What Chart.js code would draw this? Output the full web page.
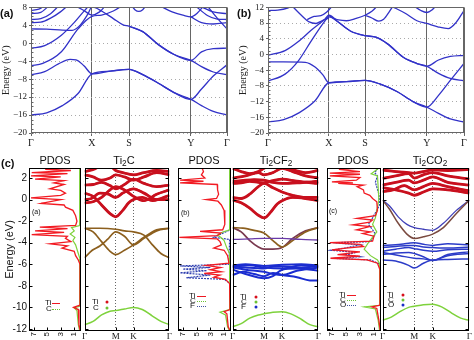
<!DOCTYPE html>
<html><head><meta charset="utf-8">
<script src="https://cdn.jsdelivr.net/npm/chart.js@4.4.0/dist/chart.umd.min.js"></script>
<style>
html,body{margin:0;padding:0;background:#fff;}
body{width:474px;height:340px;position:relative;overflow:hidden;font-family:'Liberation Sans',Arial,sans-serif;}
canvas{position:absolute;}
.t{position:absolute;white-space:nowrap;color:#111;line-height:1;transform:translate(-50%,-50%);}
.l{position:absolute;white-space:nowrap;color:#111;line-height:1;transform:translate(0,-50%);}
.ln{position:absolute;height:0;}
.dot{position:absolute;width:3px;height:3px;border-radius:50%;transform:translate(-50%,-50%);}
sub{font-size:75%;vertical-align:-2px;line-height:0;}
</style></head><body>
<canvas id="ca" style="left:0;top:0" width="237" height="150"></canvas>
<canvas id="cb" style="left:237px;top:0" width="237" height="150"></canvas>
<canvas id="p1" style="left:0;top:150px" width="82" height="190"></canvas>
<canvas id="b1" style="left:82px;top:150px" width="90" height="190"></canvas>
<canvas id="p2" style="left:170px;top:150px" width="62" height="190"></canvas>
<canvas id="b2" style="left:230px;top:150px" width="91" height="190"></canvas>
<canvas id="p3" style="left:319px;top:150px" width="63" height="190"></canvas>
<canvas id="b3" style="left:380px;top:150px" width="92" height="190"></canvas>

<div class="l" style="left:0px;top:13px;font-weight:bold;font-size:11px">(a)</div>
<div class="l" style="left:237px;top:13px;font-weight:bold;font-size:11px">(b)</div>
<div class="l" style="left:1px;top:163px;font-weight:bold;font-size:11px">(c)</div>
<div class="t" style="left:55px;top:160px;font-size:11px">PDOS</div>
<div class="t" style="left:124px;top:160px;font-size:11px">Ti<sub>2</sub>C</div>
<div class="t" style="left:204px;top:160px;font-size:11px">PDOS</div>
<div class="t" style="left:276px;top:160px;font-size:11px">Ti<sub>2</sub>CF<sub>2</sub></div>
<div class="t" style="left:353px;top:160px;font-size:11px">PDOS</div>
<div class="t" style="left:430px;top:160px;font-size:11px">Ti<sub>2</sub>CO<sub>2</sub></div>
<div class="l" style="left:32px;top:211px;font-size:7px">(a)</div>
<div class="l" style="left:181px;top:212px;font-size:7px">(b)</div>
<div class="l" style="left:329px;top:210px;font-size:7px">(c)</div>
<!-- PDOS legends -->
<div class="l" style="left:45px;top:303px;font-size:8px">Ti</div>
<div class="ln" style="left:52px;top:303px;width:8px;border-top:1.5px solid #ee1822"></div>
<div class="l" style="left:46px;top:309px;font-size:8px">C</div>
<div class="ln" style="left:52px;top:309px;width:8px;border-top:1.5px dotted #6cc232"></div>
<div class="l" style="left:189px;top:296px;font-size:8px">Ti</div>
<div class="ln" style="left:197px;top:296px;width:9px;border-top:1.5px solid #ee1822"></div>
<div class="l" style="left:190px;top:301px;font-size:8px">C</div>
<div class="ln" style="left:197px;top:301px;width:9px;border-top:1.5px dotted #6cc232"></div>
<div class="l" style="left:190px;top:306px;font-size:8px">F</div>
<div class="ln" style="left:197px;top:306px;width:9px;border-top:1.5px dotted #4050a0"></div>
<div class="l" style="left:339px;top:295px;font-size:8px">Ti</div>
<div class="ln" style="left:347px;top:295px;width:9px;border-top:1.5px solid #ee1822"></div>
<div class="l" style="left:340px;top:300px;font-size:8px">C</div>
<div class="ln" style="left:347px;top:300px;width:9px;border-top:1.5px dotted #6cc232"></div>
<div class="l" style="left:340px;top:305px;font-size:8px">O</div>
<div class="ln" style="left:347px;top:305px;width:9px;border-top:1.5px dotted #4050a0"></div>
<!-- band legends -->
<div class="l" style="left:92px;top:302px;font-size:8px">Ti</div>
<div class="dot" style="left:107px;top:302px;background:#d8101c"></div>
<div class="l" style="left:93px;top:308px;font-size:8px">C</div>
<div class="dot" style="left:107px;top:308px;background:#6cc232"></div>
<div class="l" style="left:240px;top:297px;font-size:8px">Ti</div>
<div class="dot" style="left:256px;top:297px;background:#d8101c"></div>
<div class="l" style="left:241px;top:302px;font-size:8px">C</div>
<div class="dot" style="left:256px;top:302px;background:#6cc232"></div>
<div class="l" style="left:241px;top:307px;font-size:8px">F</div>
<div class="dot" style="left:256px;top:307px;background:#1a2cc8"></div>
<div class="l" style="left:387px;top:295px;font-size:8px">Ti</div>
<div class="dot" style="left:403px;top:295px;background:#d8101c"></div>
<div class="l" style="left:388px;top:300px;font-size:8px">C</div>
<div class="dot" style="left:403px;top:300px;background:#6cc232"></div>
<div class="l" style="left:388px;top:305px;font-size:8px">O</div>
<div class="dot" style="left:403px;top:305px;background:#1a2cc8"></div>

<script>
// ---------- axes / labels ----------
const K_A = [0, 0.311, 0.5, 0.816, 1];
const LBL_A = ['Γ','X','S','Y','Γ'];
const TICKS_A = [8,4,0,-4,-8,-12,-16,-20];
const K_B = [0, 0.311, 0.495, 0.81, 1];
const LBL_B = ['Γ','X','S','Y','Γ'];
const TICKS_B = [12,8,4,0,-4,-8,-12,-16,-20];
const K_C = [0, 0.366, 0.577, 1];
const LBL_C = ['Γ','M','K','Γ'];
const TICKS_C = [2,0,-2,-4,-6,-8,-10,-12];
const DOS_TICKS = [1,3,5,7];

// ---------- panel (a) bands [k, E] ----------
const a1 = [[0,-16],[0.08,-15.5],[0.16,-13.9],[0.24,-11.2],[0.311,-6.8],[0.405,-6.2],[0.5,-5.8],[0.57,-7.0],[0.65,-8.9],[0.73,-11.0],[0.816,-12.5],[0.87,-13.9],[0.93,-15.2],[1,-16]];
const a2 = [[0,-7],[0.07,-6.3],[0.14,-4.6],[0.2,-3.6],[0.23,-3.7],[0.27,-5],[0.311,-6.8],[0.405,-6.2],[0.5,-5.8],[0.57,-7.0],[0.65,-8.9],[0.73,-11.0],[0.816,-12.5],[0.87,-10.2],[0.93,-7.3],[1,-4.8]];
const a3 = [[0,-5],[0.06,-4.5],[0.155,-1.9],[0.24,3.2],[0.311,6.0],[0.36,6.3],[0.42,7.2],[0.47,8.5]];
const a4 = [[0,-1.1],[0.07,-0.5],[0.155,1.8],[0.22,4.6],[0.265,6.9],[0.3,8.6]];
const a5 = [[0,3.2],[0.08,3.15],[0.16,2.95],[0.21,2.9],[0.25,4.0],[0.29,6.5],[0.311,8.1],[0.36,7.2],[0.42,5.5],[0.47,4.1],[0.5,3.8],[0.57,2.6],[0.65,-0.3],[0.73,-2.5],[0.816,-3.8],[0.87,-1.9],[0.93,-1.2],[1,-1.1]];
const a6 = [[0.5,3.8],[0.57,2.6],[0.65,-0.3],[0.73,-2.5],[0.816,-3.8],[0.87,-5.2],[0.93,-6.4],[1,-7]];
const a7 = [[0,4.6],[0.05,4.7],[0.1,5.6],[0.15,7],[0.19,8.5]];
const a8 = [[0,5.3],[0.05,5.5],[0.1,6.6],[0.14,8.3]];
const a9 = [[0,6.6],[0.05,6.9],[0.09,8.3]];
const a10 = [[0,7.3],[0.04,7.6],[0.07,8.4]];
const a11 = [[0.22,8.5],[0.27,7.3],[0.311,6.3],[0.35,7.0],[0.38,8.4]];
const a12 = [[0.515,8.3],[0.53,7.5],[0.55,7.1],[0.57,7.5],[0.585,8.3]];
const a13 = [[0.66,8.3],[0.72,7.0],[0.78,6.2],[0.816,5.9],[0.85,6.8],[0.88,8.3]];
const a14 = [[0.816,5.9],[0.87,4.6],[0.93,4.3],[1,4.6]];
const a15 = [[0.84,8.3],[0.9,6.2],[0.95,5.4],[1,5.3]];
const a16 = [[0.86,8.3],[0.93,7],[1,6.6]];
const a17 = [[0.9,8.3],[0.95,5.6],[1,3.2]];
const BANDS_A = [a1,a2,a3,a4,a5,a6,a7,a8,a9,a10,a11,a12,a13,a14,a15,a16,a17];

// ---------- panel (b) bands ----------
const b1 = [[0,-17.2],[0.08,-16.6],[0.16,-14.8],[0.24,-11.8],[0.311,-7.2],[0.4,-6.9],[0.495,-6.6],[0.57,-7.5],[0.66,-9.5],[0.74,-12.0],[0.81,-13.4],[0.87,-15],[0.93,-16.4],[1,-17.2]];
const b2 = [[0,-1.9],[0.08,-1.9],[0.19,-2.0],[0.24,-3.2],[0.28,-5.2],[0.311,-7.2],[0.4,-6.9],[0.495,-6.6],[0.57,-7.5],[0.66,-9.5],[0.74,-12.0],[0.81,-13.4],[0.87,-10.4],[0.93,-6.6],[1,-2.3]];
const b3 = [[0,-6.8],[0.087,-5],[0.155,-1.6],[0.22,3.4],[0.29,8.5],[0.311,9.6],[0.36,8.8],[0.4,8.6],[0.45,9.2],[0.495,10],[0.53,11],[0.56,12.5]];
const b4 = [[0,-0.2],[0.087,1.0],[0.155,3.3],[0.22,6.2],[0.29,9.0],[0.311,10.0],[0.36,8.2],[0.42,6.0],[0.495,4.8],[0.55,4.4],[0.61,2.7],[0.69,-0.7],[0.76,-2.3],[0.81,-3.0],[0.87,-1.4],[0.93,-0.5],[1,-0.2]];
const b5 = [[0.311,10.0],[0.36,8.2],[0.42,6.0],[0.495,4.8],[0.55,4.4],[0.61,2.7],[0.69,-0.7],[0.76,-2.3],[0.81,-3.0],[0.87,-4.8],[0.93,-6.1],[1,-6.7]];
const b6 = [[0.12,12.5],[0.17,10],[0.21,8.3],[0.245,7.9],[0.275,8.6],[0.311,9.3]];
const b7 = [[0.2,8.9],[0.235,9.7],[0.27,9.9],[0.3,10.8],[0.33,12.5]];
const b8 = [[0,11.2],[0.05,11.3],[0.1,11.8],[0.13,12.5]];
const b9 = [[0.495,10.0],[0.53,9.3],[0.565,8.5],[0.59,9.0],[0.62,11.0],[0.64,12.5]];
const b10 = [[0.63,12.3],[0.7,10.5],[0.76,8.6],[0.81,7.9],[0.87,7.0],[0.92,6.6],[0.96,8.2],[1,11.2]];
const b11 = [[0.74,12.5],[0.78,11.2],[0.81,10.7],[0.84,11.5],[0.86,12.5]];
const BANDS_B = [b1,b2,b3,b4,b5,b6,b7,b8,b9,b10,b11];

// ---------- (c) Ti2C bands ----------
const c1_green = [[0,-11.6],[0.1,-11.3],[0.2,-10.7],[0.3,-10.35],[0.366,-10.3],[0.47,-10.15],[0.577,-10.0],[0.68,-10.2],[0.8,-10.8],[0.9,-11.3],[1,-11.6]];
const c1_mix1 = [[0,-2.66],[0.18,-2.66],[0.366,-2.75],[0.47,-2.9],[0.577,-3.0],[0.7,-3.3],[0.8,-4.2],[0.9,-5.0],[1,-5.4]];
const c1_mix2 = [[0,-2.66],[0.1,-3.0],[0.2,-3.9],[0.3,-4.8],[0.366,-5.1],[0.47,-4.7],[0.577,-4.2],[0.7,-3.5],[0.85,-2.8],[1,-2.66]];
const c1_mix3 = [[0,-5.4],[0.09,-4.7],[0.18,-4.3],[0.27,-3.7],[0.366,-3.0],[0.47,-3.4],[0.577,-4.2],[0.7,-3.6],[0.85,-2.9],[1,-2.66]];
const c1_ti1 = [[0,0.6],[0.1,0.3],[0.2,-0.5],[0.3,-1.3],[0.366,-1.6],[0.45,-1.0],[0.52,-0.3],[0.577,0.0],[0.68,0.2],[0.8,-0.1],[0.9,0.1],[1,0.4]];
const c1_ti2 = [[0,0.0],[0.08,0.1],[0.18,0.6],[0.28,0.5],[0.366,0.2],[0.45,0.6],[0.577,1.0],[0.7,0.6],[0.85,0.0],[1,0.0]];
const c1_ti3 = [[0,-0.3],[0.1,-0.2],[0.2,0.2],[0.3,0.9],[0.366,1.2],[0.47,0.9],[0.577,0.3],[0.7,-0.1],[0.85,0.5],[1,0.9]];
const c1_ti4 = [[0,1.35],[0.1,1.4],[0.2,1.6],[0.3,1.3],[0.366,1.0],[0.47,1.4],[0.577,1.9],[0.7,1.5],[0.85,1.2],[1,1.35]];
const c1_ti5 = [[0,2.3],[0.1,2.1],[0.2,1.8],[0.3,2.0],[0.366,2.3],[0.47,2.1],[0.577,1.8],[0.7,2.1],[0.85,2.5],[1,2.3]];
const c1_ti6 = [[0,2.6],[0.12,2.85],[0.2,3.2]];
const c1_ti7 = [[0.3,3.2],[0.366,2.7],[0.45,2.5],[0.577,2.3],[0.7,2.5],[0.85,2.7],[1,2.6]];
const TI_C1 = [c1_ti1,c1_ti2,c1_ti3,c1_ti4,c1_ti5,c1_ti6,c1_ti7];
const MIX_C1 = [c1_mix1,c1_mix2,c1_mix3];

// ---------- (c) Ti2CF2 bands ----------
const c2_green = [[0,-11.8],[0.1,-11.5],[0.2,-11.0],[0.3,-10.7],[0.366,-10.6],[0.47,-10.45],[0.577,-10.4],[0.68,-10.6],[0.8,-11.1],[0.9,-11.6],[1,-11.8]];
const c2_f1 = [[0,-6.1],[0.15,-6.0],[0.366,-6.15],[0.577,-6.05],[0.8,-6.0],[1,-6.1]];
const c2_f2 = [[0,-6.2],[0.15,-6.3],[0.366,-6.4],[0.47,-6.2],[0.577,-6.2],[0.8,-6.3],[1,-6.2]];
const c2_f3 = [[0,-6.3],[0.15,-6.5],[0.366,-6.7],[0.47,-6.9],[0.577,-7.0],[0.75,-6.6],[1,-6.3]];
const c2_f4 = [[0,-6.5],[0.15,-6.9],[0.366,-7.3],[0.47,-7.1],[0.577,-6.5],[0.75,-6.4],[1,-6.6]];
const c2_f5 = [[0,-7.0],[0.12,-6.7],[0.25,-6.9],[0.366,-7.1],[0.47,-6.8],[0.577,-7.0],[0.75,-7.2],[0.9,-7.5],[1,-7.5]];
const c2_f6 = [[0,-6.2],[0.2,-6.1],[0.366,-6.3],[0.577,-6.4],[0.8,-6.1],[1,-6.2]];
const F_C2 = [c2_f1,c2_f2,c2_f3,c2_f4,c2_f5,c2_f6];
const c2_mix1 = [[0,-2.6],[0.12,-2.65],[0.25,-2.85],[0.366,-3.1],[0.47,-3.8],[0.577,-4.4],[0.7,-3.8],[0.85,-3.0],[1,-2.6]];
const c2_mix2 = [[0,-2.6],[0.1,-3.0],[0.2,-3.8],[0.3,-4.4],[0.366,-4.6],[0.47,-4.6],[0.577,-4.45],[0.7,-3.6],[0.85,-2.9],[1,-2.6]];
const c2_flat = [[0,-3.7],[0.2,-3.65],[0.366,-3.6],[0.577,-3.6],[0.8,-3.7],[1,-3.75]];
const c2_ti1 = [[0,-0.05],[0.1,-0.3],[0.2,-0.8],[0.3,-1.45],[0.366,-1.7],[0.45,-1.1],[0.52,-0.4],[0.577,-0.1],[0.7,0.2],[0.85,0.1],[1,-0.1]];
const c2_ti2 = [[0,0.2],[0.1,0.1],[0.2,0.5],[0.3,1.2],[0.366,1.5],[0.47,1.1],[0.577,0.7],[0.7,0.4],[0.85,0.2],[1,0.2]];
const c2_ti3 = [[0,1.5],[0.1,1.55],[0.2,1.7],[0.3,1.6],[0.366,1.55],[0.47,1.75],[0.577,1.9],[0.75,1.7],[1,1.5]];
const c2_ti4 = [[0,1.7],[0.1,1.75],[0.25,1.85],[0.366,1.8],[0.47,1.6],[0.577,1.5],[0.75,1.55],[1,1.7]];
const c2_ti5 = [[0,2.0],[0.15,2.2],[0.3,2.5],[0.366,2.3],[0.47,2.5],[0.577,2.9],[0.7,2.6],[0.85,2.2],[1,2.0]];
const c2_ti6 = [[0,2.9],[0.1,2.6],[0.2,2.4],[0.3,2.6],[0.366,2.9],[0.45,3.2]];
const c2_ti7 = [[0.6,3.2],[0.7,2.8],[0.85,2.5],[1,2.7]];
const TI_C2 = [c2_ti1,c2_ti2,c2_ti3,c2_ti4,c2_ti5,c2_ti6,c2_ti7];

// ---------- (c) Ti2CO2 bands ----------
const c3_green = [[0,-11.2],[0.1,-10.9],[0.2,-10.4],[0.3,-10.0],[0.366,-9.9],[0.47,-9.75],[0.577,-9.7],[0.68,-9.95],[0.8,-10.55],[0.9,-11.0],[1,-11.2]];
const c3_o1 = [[0,-4.25],[0.15,-4.2],[0.3,-4.05],[0.366,-4.0],[0.47,-4.15],[0.577,-4.25],[0.75,-4.1],[1,-4.2]];
const c3_o2 = [[0,-4.45],[0.15,-4.35],[0.3,-4.25],[0.366,-4.25],[0.47,-4.4],[0.577,-4.45],[0.75,-4.5],[1,-4.4]];
const c3_o3 = [[0,-4.8],[0.15,-4.6],[0.3,-4.45],[0.366,-4.55],[0.47,-4.7],[0.577,-4.8],[0.75,-4.65],[1,-4.6]];
const c3_o4 = [[0,-5.1],[0.15,-4.95],[0.3,-4.9],[0.366,-5.0],[0.47,-5.3],[0.577,-5.65],[0.75,-5.1],[1,-4.85]];
const c3_o5 = [[0,-5.6],[0.15,-5.7],[0.3,-6.1],[0.366,-6.35],[0.47,-5.9],[0.577,-5.6],[0.75,-5.55],[1,-5.5]];
const c3_o6 = [[0,-4.9],[0.2,-5.2],[0.366,-5.45],[0.47,-5.5],[0.577,-5.65],[0.75,-5.2],[1,-5.0]];
const O_C3 = [c3_o1,c3_o2,c3_o3,c3_o4,c3_o5,c3_o6];
const c3_mix1 = [[0,-0.05],[0.08,-0.9],[0.18,-2.2],[0.28,-3.2],[0.366,-3.6],[0.47,-3.45],[0.577,-3.2],[0.7,-2.6],[0.85,-1.3],[1,-0.05]];
const c3_mix2 = [[0,-0.05],[0.08,-0.6],[0.18,-1.6],[0.28,-2.3],[0.366,-2.6],[0.47,-2.75],[0.577,-2.85],[0.7,-2.2],[0.85,-1.0],[1,-0.05]];
const c3_ti1 = [[0,2.74],[0.15,2.6],[0.3,2.5],[0.366,2.45],[0.47,2.6],[0.577,2.75],[0.75,2.7],[1,2.8]];
const c3_ti2 = [[0,1.97],[0.15,2.2],[0.3,2.4],[0.366,2.0],[0.47,2.3],[0.577,2.5],[0.75,2.2],[1,1.9]];
const c3_ti3 = [[0,1.35],[0.15,1.6],[0.3,1.8],[0.366,1.55],[0.47,1.8],[0.577,2.1],[0.75,1.6],[1,1.35]];
const c3_ti4 = [[0,0.73],[0.12,0.9],[0.25,1.3],[0.366,0.9],[0.47,1.2],[0.577,1.5],[0.75,1.2],[1,0.8]];
const c3_ti5 = [[0,1.1],[0.15,0.9],[0.3,0.6],[0.366,0.4],[0.47,0.7],[0.577,1.0],[0.75,0.9],[1,0.6]];
const TI_C3 = [c3_ti1,c3_ti2,c3_ti3,c3_ti4,c3_ti5];

// ---------- PDOS [E, DOS] ----------
const p1_ti = [[2.93,2.5],[2.8,5.3],[2.7,1.5],[2.5,7.3],[2.4,2],[2.2,7.4],[2.1,3],[1.9,6.8],[1.75,2.5],[1.55,4.0],[1.4,2.5],[1.0,4.6],[0.85,3],[0.6,2.3],[0.4,3],[0.15,7.4],[0.0,3],[-0.35,5.9],[-0.5,2.5],[-0.7,2.3],[-1.0,1.2],[-1.5,0.8],[-2.0,0.6],[-2.4,0.8],[-2.55,6.1],[-2.7,2],[-2.9,6.8],[-3.05,2.5],[-3.25,7.3],[-3.4,2],[-3.6,2.3],[-3.9,1.5],[-4.1,4.6],[-4.3,2],[-4.5,2.8],[-4.8,1],[-5.2,0.8],[-5.6,0.4],[-6,0.15],[-9.8,0.15],[-10.0,1.1],[-10.2,0.4],[-11.6,0.3],[-12.19,0.1]];
const p1_c = [[2.93,0.15],[-2.4,0.2],[-2.6,1.4],[-2.9,1.0],[-3.2,1.6],[-3.5,0.9],[-3.8,1.2],[-4.2,0.8],[-5,0.4],[-5.5,0.15],[-9.9,0.2],[-10.05,1.0],[-10.3,0.6],[-11.6,0.4],[-12.19,0.2]];
const p2_ti = [[2.93,4.2],[2.6,4.0],[2.3,4.3],[2.0,3.8],[1.8,7.4],[1.7,4],[1.55,7.4],[1.4,2],[1.2,1.9],[0.9,2],[0.5,1.8],[0.1,2.1],[0.0,3.6],[-0.15,1.9],[-0.5,1.4],[-1.0,1.0],[-1.6,0.9],[-2.3,0.9],[-2.8,1.2],[-2.95,4.5],[-3.1,1.5],[-3.35,2],[-3.5,7.5],[-3.65,2.0],[-3.9,1.6],[-4.2,1.4],[-4.5,2.5],[-4.7,1.0],[-5.2,0.5],[-5.9,0.3],[-6.1,3.6],[-6.3,1.5],[-6.5,3.0],[-6.7,1.4],[-6.85,3.9],[-7.0,1.6],[-7.2,2.5],[-7.4,0.8],[-7.8,0.2],[-10.2,0.15],[-10.4,1.0],[-10.6,0.6],[-11.8,0.4],[-12.19,0.1]];
const p2_f = [[2.93,0.1],[-2.8,0.1],[-3.5,2.5],[-3.7,0.2],[-6.0,0.3],[-6.15,7.4],[-6.3,3],[-6.45,7.0],[-6.6,3.5],[-6.8,7.4],[-7.0,3],[-7.25,6.5],[-7.4,1],[-7.8,0.1],[-12.19,0.05]];
const p2_c = [[2.93,0.15],[-2.8,0.2],[-3.0,1.2],[-3.3,2.0],[-3.5,1.5],[-3.8,1.0],[-4.5,0.6],[-5,0.2],[-10.2,0.2],[-10.45,1.6],[-10.7,0.8],[-11.8,0.5],[-12.19,0.2]];
const p3_ti = [[2.93,3],[2.8,6],[2.6,3],[2.45,7.3],[2.35,3],[2.2,7.3],[2.05,3],[1.8,3.5],[1.65,7.0],[1.55,4],[1.5,6.1],[1.35,2.5],[1.2,3.4],[0.9,2.5],[0.6,2.4],[0.4,1.6],[0.1,1.2],[-0.2,0.6],[-1.0,0.5],[-1.5,0.8],[-1.75,3.4],[-1.9,1.2],[-2.1,1.6],[-2.35,4.0],[-2.5,1.6],[-2.8,3.5],[-3.0,1.5],[-3.15,2.6],[-3.4,1.0],[-3.85,1.2],[-4.0,7.3],[-4.15,3],[-4.35,2.5],[-4.5,5],[-4.67,7.0],[-4.85,3],[-5.1,6.2],[-5.25,3],[-5.44,7.2],[-5.6,2],[-5.9,0.5],[-6.5,0.15],[-9.8,0.15],[-9.95,1.3],[-10.1,0.6],[-11.2,0.3],[-12.19,0.1]];
const p3_o = [[2.93,0.4],[2.5,0.9],[2.2,0.5],[1.6,0.8],[0.5,0.3],[-0.5,0.2],[-1.7,1.2],[-2.3,1.8],[-2.8,1.2],[-3.2,0.8],[-3.9,1.5],[-4.0,6.8],[-4.2,3],[-4.5,5.2],[-4.7,7.2],[-4.9,3.5],[-5.1,5],[-5.3,3],[-5.45,6.8],[-5.6,1.5],[-6.0,0.1],[-12.19,0.05]];
const p3_c = [[2.93,0.3],[2.4,1.4],[2.2,0.5],[0,0.3],[-1.7,0.8],[-2.3,1.2],[-3.0,0.6],[-4.0,1.8],[-4.6,2.4],[-5.2,1.5],[-5.6,0.5],[-6,0.15],[-9.8,0.2],[-9.95,2.4],[-10.15,0.8],[-11.2,0.4],[-12.19,0.2]];

// ---------- colours ----------
const RED = '#f21a22', RED_DK = '#c8101e', GREEN = '#7ed23c', BROWN = '#8c5f1e', BLUE = '#1a2cd0', PURPLE = '#6a3aa8', BAND_AB = '#3232c8';
const E_MIN = -12.19, E_MAX = 2.93, DOS_MAX = 7.7;

// ---------- helpers ----------
const framePlugin = {
  id: 'frame',
  afterDraw(chart, args, o) {
    const ctx = chart.ctx, a = chart.chartArea;
    ctx.save();
    ctx.strokeStyle = o.color || '#000';
    ctx.lineWidth = 1;
    const L = Math.round(a.left) + 0.5, R = Math.round(a.right) - 0.5, T = Math.round(a.top) + 0.5, B = Math.round(a.bottom) - 0.5;
    ctx.strokeRect(L, T, R - L, B - T);
    const ys = chart.scales.y;
    if (o.yTicks) {
      for (const v of o.yTicks) {
        const y = Math.round(ys.getPixelForValue(v)) + 0.5;
        ctx.beginPath();
        if (o.left) { ctx.moveTo(L, y); ctx.lineTo(L + (o.len || 3), y); }
        if (o.right) { ctx.moveTo(R, y); ctx.lineTo(R - (o.len || 3), y); }
        ctx.stroke();
      }
    }
    if (o.xTicks) {
      const xs = chart.scales.x;
      for (const v of o.xTicks) {
        const x = Math.round(xs.getPixelForValue(v)) + 0.5;
        ctx.beginPath(); ctx.moveTo(x, B); ctx.lineTo(x, B - 3); ctx.stroke();
      }
    }
    ctx.restore();
  }
};
function band(arr, color, width) {
  return {data: arr.map(p => ({x: p[0], y: p[1]})), borderColor: color, borderWidth: width, pointRadius: 0,
          showLine: true, fill: false, cubicInterpolationMode: 'monotone', capBezierPoints: false};
}
function dos(arr, color, width, dash) {
  return {data: arr.map(p => ({x: p[1], y: p[0]})), borderColor: color, borderWidth: width, pointRadius: 0,
          showLine: true, fill: false, tension: 0, borderDash: dash || []};
}
function minor(lo, hi, step) { const r = []; for (let v = lo; v <= hi + 1e-9; v += step) r.push(v); return r; }
const fmtMinus = v => v < 0 ? '\u2212' + Math.abs(v) : String(v);
function mk(id, datasets, o) {
  return new Chart(document.getElementById(id), {
    type: 'scatter',
    data: {datasets},
    options: {
      responsive: false, animation: false, events: [],
      layout: {padding: o.pad},
      plugins: {legend: {display: false}, tooltip: {enabled: false}, frame: o.frame},
      scales: {x: o.x, y: o.y}
    },
    plugins: [framePlugin]
  });
}

// ---------- panels (a) and (b) ----------
function topPanel(id, bands, K, LBL, TICKS, ymin, ymax) {
  mk(id, bands.map(b => band(b, BAND_AB, 1.3)), {
    pad: {top: 5, right: 10, left: 0, bottom: 0},
    frame: {color: '#666', yTicks: minor(ymin, ymax, 1), left: true, len: 2},
    x: {type: 'linear', min: 0, max: 1,
        afterBuildTicks: s => { s.ticks = K.map(v => ({value: v})); },
        afterFit: s => { s.height = 17; },
        ticks: {callback: (v, i) => LBL[i], font: {family: 'Liberation Serif', size: 10}, color: '#222', padding: 1, maxRotation: 0, autoSkip: false},
        grid: {color: '#666', lineWidth: 1, tickLength: 3}, border: {display: false}},
    y: {type: 'linear', min: ymin, max: ymax,
        afterBuildTicks: s => { s.ticks = TICKS.map(v => ({value: v})); },
        afterFit: s => { s.width = 31; },
        ticks: {callback: v => fmtMinus(v), font: {family: 'Liberation Serif', size: 9}, color: '#222', padding: 2, autoSkip: false},
        grid: {color: '#aaa', lineWidth: 1, tickLength: 2, tickColor: '#666'}, border: {display: false, dash: [1, 3]},
        title: {display: true, text: 'Energy (eV)', font: {family: 'Liberation Serif', size: 10}, color: '#222', padding: {top: 0, bottom: 0}}}
  });
}
topPanel('ca', BANDS_A, K_A, LBL_A, TICKS_A, -20, 8);
topPanel('cb', BANDS_B, K_B, LBL_B, TICKS_B, -20, 12);

// ---------- (c) PDOS panels ----------
function pdosPanel(id, datasets, padLeft, withAxis) {
  const y = withAxis ? {
      type: 'linear', min: E_MIN, max: E_MAX,
      afterBuildTicks: s => { s.ticks = TICKS_C.map(v => ({value: v})); },
      afterFit: s => { s.width = 29; },
      ticks: {font: {family: 'Liberation Sans', size: 10}, color: '#111', padding: 2, autoSkip: false},
      grid: {drawOnChartArea: false, drawTicks: false}, border: {display: false},
      title: {display: true, text: 'Energy (eV)', font: {family: 'Liberation Sans', size: 11}, color: '#111', padding: {top: 3, bottom: 0}}
    } : {type: 'linear', min: E_MIN, max: E_MAX, display: false};
  mk(id, datasets, {
    pad: {top: 18, right: 1, left: padLeft, bottom: 0},
    frame: {color: '#000', yTicks: TICKS_C, left: true, right: false, xTicks: DOS_TICKS},
    x: {type: 'linear', min: 0, max: DOS_MAX, reverse: true,
        afterBuildTicks: s => { s.ticks = DOS_TICKS.map(v => ({value: v})); },
        afterFit: s => { s.height = 9; },
        ticks: {font: {family: 'Liberation Sans', size: 8}, color: '#111', padding: 1, minRotation: 90, maxRotation: 90, autoSkip: false},
        grid: {drawOnChartArea: false, drawTicks: false}, border: {display: false}},
    y
  });
}
pdosPanel('p1', [dos(p1_ti, RED, 1.3), dos(p1_c, GREEN, 1.2)], 0, true);
pdosPanel('p2', [dos(p2_ti, RED, 1.3), dos(p2_c, GREEN, 1.2), dos(p2_f, '#3040b0', 1.2, [2, 1])], 8, false);
pdosPanel('p3', [dos(p3_ti, RED, 1.3), dos(p3_c, GREEN, 1.2), dos(p3_o, '#3040b0', 1.2, [2, 1])], 8, false);

// ---------- (c) band panels ----------
function redBands(list) {
  const out = [];
  list.forEach(b => out.push(band(b, RED_DK, 2.8)));
  list.forEach(b => out.push(band(b, RED, 1.9)));
  return out;
}
function bandPanel(id, datasets, padLeft, padRight) {
  mk(id, datasets, {
    pad: {top: 18, right: padRight, left: padLeft, bottom: 0},
    frame: {color: '#000', yTicks: TICKS_C, left: true, right: true, xTicks: K_C.slice(1, 3)},
    x: {type: 'linear', min: 0, max: 1,
        afterBuildTicks: s => { s.ticks = K_C.map(v => ({value: v})); },
        afterFit: s => { s.height = 9; },
        ticks: {callback: (v, i) => LBL_C[i], font: {family: 'Liberation Serif', size: 9}, color: '#111', padding: 0, maxRotation: 0, autoSkip: false},
        grid: {drawTicks: false, lineWidth: 1, color: c => (c.tick && (c.tick.value === K_C[1] || c.tick.value === K_C[2])) ? '#666' : 'rgba(0,0,0,0)'},
        border: {display: false, dash: [1, 2]}},
    y: {type: 'linear', min: E_MIN, max: E_MAX, display: false}
  });
}
bandPanel('b1', [band(c1_green, GREEN, 1.5), ...MIX_C1.map(b => band(b, BROWN, 1.7)), ...redBands(TI_C1)], 1, 2);
bandPanel('b2', [band(c2_green, GREEN, 1.5), ...F_C2.map(b => band(b, BLUE, 2.0)), band(c2_flat, PURPLE, 1.3),
                 band(c2_mix1, BROWN, 1.7), band(c2_mix2, '#7a3a50', 1.7), ...redBands(TI_C2)], 1, 2);
bandPanel('b3', [band(c3_green, GREEN, 1.5), ...O_C3.map(b => band(b, '#2c3cc8', 1.5)),
                 band(c3_mix1, '#7a4a40', 1.5), band(c3_mix2, '#4040b8', 1.3), ...redBands(TI_C3)], 1, 2);
</script>
</body></html>
